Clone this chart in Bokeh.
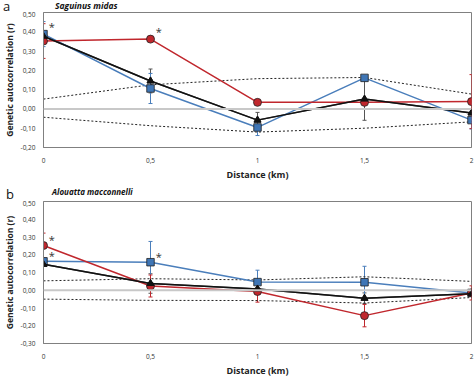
from bokeh.plotting import figure
from bokeh.models import (ColumnDataSource, Whisker, Span, Label, FixedTicker,
                          CustomJSTickFormatter, Range1d, TeeHead, Div)
from bokeh.layouts import column
from bokeh.embed import file_html
from bokeh.resources import INLINE

# ---------------- data ----------------
dist = [0, 0.5, 1, 1.5, 2]
x_ticks = [0, 0.5, 1, 1.5, 2]

# panel a: Saguinus midas
a_red = [0.352, 0.362, 0.034, 0.034, 0.038]
a_red_err = [0.09, 0.0, 0.0, 0.0, 0.14]
a_blue = [0.388, 0.106, -0.096, 0.161, -0.058]
a_blue_err = [0.065, 0.078, 0.042, 0.0, 0.046]
a_black = [0.377, 0.145, -0.058, 0.051, -0.021]
a_black_err = [0.0, 0.062, 0.04, 0.11, 0.0]
a_upper = [0.051, 0.125, 0.157, 0.163, 0.077]
a_lower = [-0.043, -0.087, -0.12, -0.10, -0.067]
a_yticks = [-0.2, -0.1, 0.0, 0.1, 0.2, 0.3, 0.4, 0.5]

# panel b: Alouatta macconnelli
b_red = [0.252, 0.024, -0.007, -0.143, -0.015]
b_red_err = [0.07, 0.062, 0.06, 0.063, 0.04]
b_blue = [0.163, 0.158, 0.046, 0.045, -0.015]
b_blue_err = [0.0, 0.117, 0.067, 0.09, 0.0]
b_black = [0.146, 0.038, 0.007, -0.045, -0.02]
b_black_err = [0.0, 0.055, 0.0, 0.03, 0.0]
b_upper = [0.053, 0.065, 0.058, 0.076, 0.05]
b_lower = [-0.05, -0.057, -0.058, -0.072, -0.041]
b_yticks = [-0.3, -0.2, -0.1, 0.0, 0.1, 0.2, 0.3, 0.4, 0.5]

RED = "#C0272D"
BLUE = "#4A7EBB"
BLUE_FILL = "#3F76B6"
BLACK = "#111111"
FONT = "Open Sans"
W = 474


def header(height, letter, letter_left, letter_top, title, title_left,
           title_top, title_size):
    html = (
        f'<div style="position:relative;width:{W}px;height:{height}px;'
        f"font-family:'Open Sans';color:#111;overflow:visible;\">"
        f'<span style="position:absolute;left:{letter_left}px;'
        f'top:{letter_top}px;font-size:13px;line-height:10px;">{letter}</span>'
        f'<span style="position:absolute;left:{title_left}px;'
        f'top:{title_top}px;font-size:{title_size}px;line-height:10px;'
        f'font-weight:bold;font-style:italic;white-space:nowrap;">'
        f'{title}</span></div>')
    return Div(text=html, width=W, height=height, margin=0,
               styles={"overflow": "visible"})


def panel(red, red_err, blue, blue_err, black, black_err,
          upper, lower, yticks, yr, height, bt, bb, stars):
    p = figure(width=W, height=height, output_backend="svg", title=None,
               toolbar_location=None, x_range=Range1d(0, 2),
               y_range=Range1d(*yr), min_border_left=36,
               min_border_right=3, min_border_top=bt, min_border_bottom=bb)
    p.xgrid.visible = False
    p.ygrid.visible = False
    p.outline_line_color = "#808080"
    p.outline_line_width = 1
    p.background_fill_color = "white"
    p.border_fill_color = "white"

    p.yaxis.ticker = FixedTicker(ticks=yticks)
    p.yaxis.formatter = CustomJSTickFormatter(
        code="return tick.toFixed(2).replace('.', ',');")
    p.xaxis.ticker = FixedTicker(ticks=x_ticks)
    p.xaxis.formatter = CustomJSTickFormatter(
        code="return (Math.round(tick*10)/10).toString().replace('.', ',');")
    for ax in (p.xaxis[0], p.yaxis[0]):
        ax.axis_line_color = "#808080"
        ax.major_tick_line_color = None
        ax.minor_tick_line_color = None
        ax.major_label_text_font = FONT
        ax.major_label_text_font_size = "6.5px"
        ax.major_label_text_color = "#333333"
        ax.axis_label_text_font = FONT
        ax.axis_label_text_font_style = "bold"
        ax.axis_label_text_color = "#222222"
    p.yaxis.major_label_standoff = 2
    p.xaxis.major_label_standoff = 4
    p.yaxis.axis_label = "Genetic autocorrelation (r)"
    p.yaxis.axis_label_text_font_size = "8.5px"
    p.yaxis.axis_label_standoff = 3
    p.xaxis.axis_label = "Distance (km)"
    p.xaxis.axis_label_text_font_size = "9px"
    p.xaxis.axis_label_standoff = 2

    p.add_layout(Span(location=0, dimension="width", line_color="#C8C8C8",
                      line_width=2))

    p.line(dist, upper, line_color="#222222", line_dash="2 2", line_width=1)
    p.line(dist, lower, line_color="#222222", line_dash="2 2", line_width=1)

    def series(vals, errs, lc, mfill, marker, size):
        src = ColumnDataSource(dict(
            x=dist, y=vals,
            lo=[v - e for v, e in zip(vals, errs)],
            hi=[v + e for v, e in zip(vals, errs)]))
        w = Whisker(base="x", lower="lo", upper="hi", source=src,
                    line_color=lc, line_width=1,
                    upper_head=TeeHead(size=4, line_color=lc, line_width=1),
                    lower_head=TeeHead(size=4, line_color=lc, line_width=1))
        p.add_layout(w)
        p.line("x", "y", source=src, line_color=lc, line_width=1.5)
        p.scatter("x", "y", source=src, marker=marker, size=size,
                  fill_color=mfill, line_color="#222222", line_width=0.8)

    series(black, black_err, "#555555", BLACK, "triangle", 7)
    series(blue, blue_err, BLUE, BLUE_FILL, "square", 7.5)
    series(red, red_err, RED, RED, "circle", 8)

    p.line(dist, black, line_color=BLACK, line_width=1.5)
    p.scatter(dist, black, marker="triangle", size=7, fill_color=BLACK,
              line_color=BLACK)

    for sx, sy in stars:
        p.add_layout(Label(x=sx, y=sy, text="*", text_font=FONT,
                           text_font_size="11px", text_color="#333333",
                           text_baseline="middle", text_align="left"))
    return p


ha = header(11, "a", 3, 0, "Saguinus midas", 55, 0, 8.5)
pa = panel(a_red, a_red_err, a_blue, a_blue_err,
           a_black, a_black_err, a_upper, a_lower, a_yticks, (-0.2, 0.5),
           172, 1, 26, [(0.025, 0.43), (0.525, 0.40)])
hb = header(17, "b", 6, 6, "Alouatta macconnelli", 52, 4, 8)
pb = panel(b_red, b_red_err, b_blue, b_blue_err,
           b_black, b_black_err, b_upper, b_lower, b_yticks, (-0.3, 0.5),
           179, 1, 22, [(0.025, 0.285), (0.025, 0.195), (0.525, 0.19)])

layout = column(ha, pa, hb, pb, spacing=0)

open("out.html", "w").write(file_html(layout, INLINE))
